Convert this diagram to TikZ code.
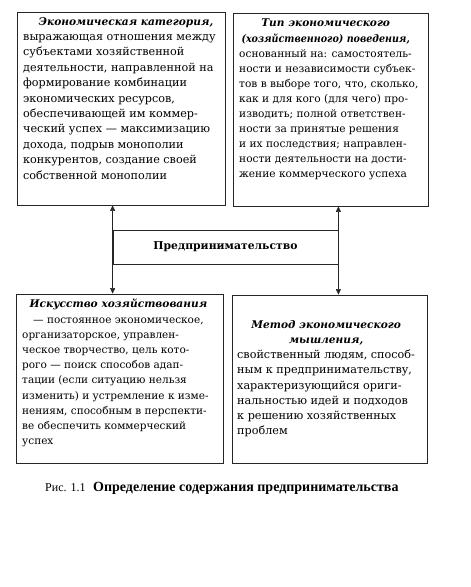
\documentclass[tikz,border=0pt]{standalone}
\usepackage{fontspec}
\usepackage{graphicx}
\setmainfont{DejaVu Serif}
\newfontfamily\capfont{Liberation Serif}
\usetikzlibrary{arrows.meta}
\newcommand{\ttlfont}{\fontsize{10.6}{14}\selectfont\bfseries\itshape}
\begin{document}
\begin{tikzpicture}[x=1pt,y=-1pt,
  box/.style={draw=black!85,line width=0.8pt,inner sep=0pt},
  body/.style={anchor=north west,inner sep=0pt,align=left,font=\fontsize{11.2}{15.2}\selectfont},
  link/.style={draw=black!85,line width=0.6pt,{Triangle[length=5.5pt,width=5pt]}-{Triangle[length=5.5pt,width=5pt]}}]
\useasboundingbox[fill=white] (0,0) rectangle (471,587);
% boxes
\node[box,minimum width=208pt,minimum height=193pt] (tl) at (121,108.5) {};
\node[box,minimum width=195pt,minimum height=193pt] (tr) at (330.5,109.5) {};
\node[box,minimum width=207pt,minimum height=169pt] (bl) at (119.5,378.5) {};
\node[box,minimum width=195pt,minimum height=168pt] (br) at (329.5,379) {};
\node[box,minimum width=225pt,minimum height=34pt,font=\bfseries\fontsize{10.8}{12}\selectfont] (mid) at (225.5,247) {Предпринимательство};
% connectors
\draw[link] (tl.south -| mid.west) -- (bl.north -| mid.west);
\draw[link] (tr.south -| mid.east) -- (br.north -| mid.east);
% texts
\node[body,font=\fontsize{11.2}{15.4}\selectfont] (tlt) at (23,17) {%
\makebox[190pt][r]{\ttlfont Экономическая категория,}\\
выражающая отношения между\\
субъектами хозяйственной\\
деятельности, направленной на\\
формирование комбинации\\
экономических ресурсов,\\
обеспечивающей им коммер-\\
ческий успех — максимизацию\\
дохода, подрыв монополии\\
конкурентов, создание своей\\
собственной монополии};
\node[body,font=\fontsize{10.6}{15.1}\selectfont] (trt) at (239,19) {%
\makebox[173pt][c]{\ttlfont Тип экономического}\\
\makebox[173pt][c]{\ttlfont\scalebox{0.9}[1]{(хозяйственного) поведения,}}\\
основанный на: самостоятель-\\
ности и независимости субъек-\\
тов в выборе того, что, сколько,\\
как и для кого (для чего) про-\\
изводить; полной ответствен-\\
ности за принятые решения\\
и их последствия; направлен-\\
ности деятельности на дости-\\
жение коммерческого успеха};
\node[body,font=\fontsize{10.5}{15.2}\selectfont] (blt) at (22,299) {%
\makebox[185pt][r]{\ttlfont Искусство хозяйствования}\\
\hspace*{11pt}— постоянное экономическое,\\
организаторское, управлен-\\
ческое творчество, цель кото-\\
рого — поиск способов адап-\\
тации (если ситуацию нельзя\\
изменить) и устремление к изме-\\
нениям, способным в перспекти-\\
ве обеспечить коммерческий\\
успех};
\node[body] (brt) at (237,320) {%
\makebox[178pt][c]{\ttlfont Метод экономического}\\
\makebox[178pt][c]{\ttlfont мышления,}\\
свойственный людям, способ-\\
ным к предпринимательству,\\
характеризующийся ориги-\\
нальностью идей и подходов\\
к решению хозяйственных\\
проблем};
% caption
\node[anchor=base west,inner sep=0pt,font=\capfont\fontsize{12}{14}\selectfont] (capa) at (45,491) {Рис. 1.1};
\node[anchor=base west,inner sep=0pt,font=\capfont\bfseries\fontsize{14}{15}\selectfont] (capb) at (93,491) {Определение содержания предпринимательства};
\end{tikzpicture}
\end{document}
